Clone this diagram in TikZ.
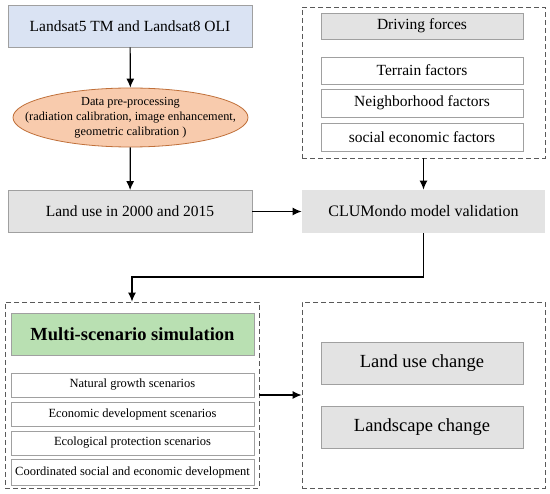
\documentclass[tikz,border=0pt]{standalone}
\usepackage{fontspec}
\setmainfont{Liberation Serif}
\usetikzlibrary{arrows.meta,shapes.geometric}

\definecolor{srcblue}{HTML}{DAE3F3}
\definecolor{prepfill}{HTML}{F8CBAD}
\definecolor{prepline}{HTML}{C0703A}
\definecolor{simgreen}{HTML}{B9E0B2}
\definecolor{boxgray}{HTML}{E3E3E3}
\definecolor{edgegray}{HTML}{A0A0A0}

\begin{document}
\begin{tikzpicture}[x=1pt,y=-1pt,>={Latex[length=9pt,width=8pt]},line width=1.2pt,
                    box/.style={draw=edgegray,line width=0.8pt,minimum width=202pt,
                                inner sep=0pt,font=\fontsize{15.5}{17}\selectfont},
                    wide/.style={box,minimum width=244pt,minimum height=42pt,
                                 font=\fontsize{15.5}{18}\selectfont},
                    small/.style={box,fill=white,minimum width=243pt,minimum height=24pt,
                                  font=\fontsize{12.5}{14}\selectfont},
                    group/.style={draw=black!65,line width=0.8pt,dash pattern=on 5pt off 3pt,
                                  minimum width=243pt,inner sep=0pt}]

  \useasboundingbox (0,0) rectangle (550,494);

  % left column
  \node[wide,fill=srcblue]  (landsat) at (130,26)    {Landsat5 TM and Landsat8 OLI};
  \node[ellipse,draw=prepline,line width=0.8pt,fill=prepfill,minimum width=235pt,
        minimum height=59pt,inner xsep=-30pt,inner ysep=-4pt,align=center,
        font=\fontsize{12.3}{15}\selectfont] (prep) at (130.5,117.5)
        {Data pre-processing\\(radiation calibration, image enhancement,\\geometric calibration )};
  \node[wide,fill=boxgray]  (landuse) at (130,211.5) {Land use in 2000 and 2015};

  % driving forces
  \node[group,minimum height=151pt] (drive) at (423.5,82.5) {};
  \node[box,fill=boxgray,minimum height=26pt] (driving)  at (422,26)  {Driving forces};
  \node[box,fill=white,minimum height=27pt]   (terrain)  at (422,70.5) {Terrain factors};
  \node[box,fill=white,minimum height=28pt]   (neighbor) at (422,103) {Neighborhood factors};
  \node[box,fill=white,minimum height=28pt]   (social)   at (422,137) {social economic factors};

  \node[wide,draw=none,fill=boxgray,minimum width=243pt,minimum height=43pt,
        font=\fontsize{16}{18}\selectfont] (clumondo) at (423.5,211.5) {CLUMondo model validation};

  % scenarios
  \node[group,minimum width=254pt,minimum height=186pt] (scen) at (132,395) {};
  \node[wide,fill=simgreen,minimum width=243pt,
        font=\fontsize{18.5}{20}\selectfont\bfseries] (multi) at (132.5,334) {Multi-scenario simulation};
  \node[small]                     (natural) at (132.5,385) {Natural growth scenarios};
  \node[small]                     (econ)    at (132.5,414) {Economic development scenarios};
  \node[small]                     (ecol)    at (132.5,443) {Ecological protection scenarios};
  \node[small,minimum height=26pt] (coord)   at (132.5,472) {Coordinated social and economic development};

  % results
  \node[group,minimum height=186pt] (result) at (423.5,395) {};
  \node[box,fill=boxgray,minimum height=42pt,font=\fontsize{18.5}{20}\selectfont]
        (luchange) at (422,363) {Land use change};
  \node[box,fill=boxgray,minimum height=42pt,font=\fontsize{18.5}{20}\selectfont]
        (lschange) at (422,427) {Landscape change};

  \coordinate (bend) at (425,277);

  \draw[->] (landsat) -- (prep);
  \draw[->] (prep) -- (landuse);
  \draw[->] (landuse) -- (clumondo);
  \draw[->] (drive) -- (clumondo);
  \draw[->] (clumondo.south) -- (clumondo.south |- bend) -| (scen.north);
  \draw[->] (scen) -- (result);
\end{tikzpicture}
\end{document}
